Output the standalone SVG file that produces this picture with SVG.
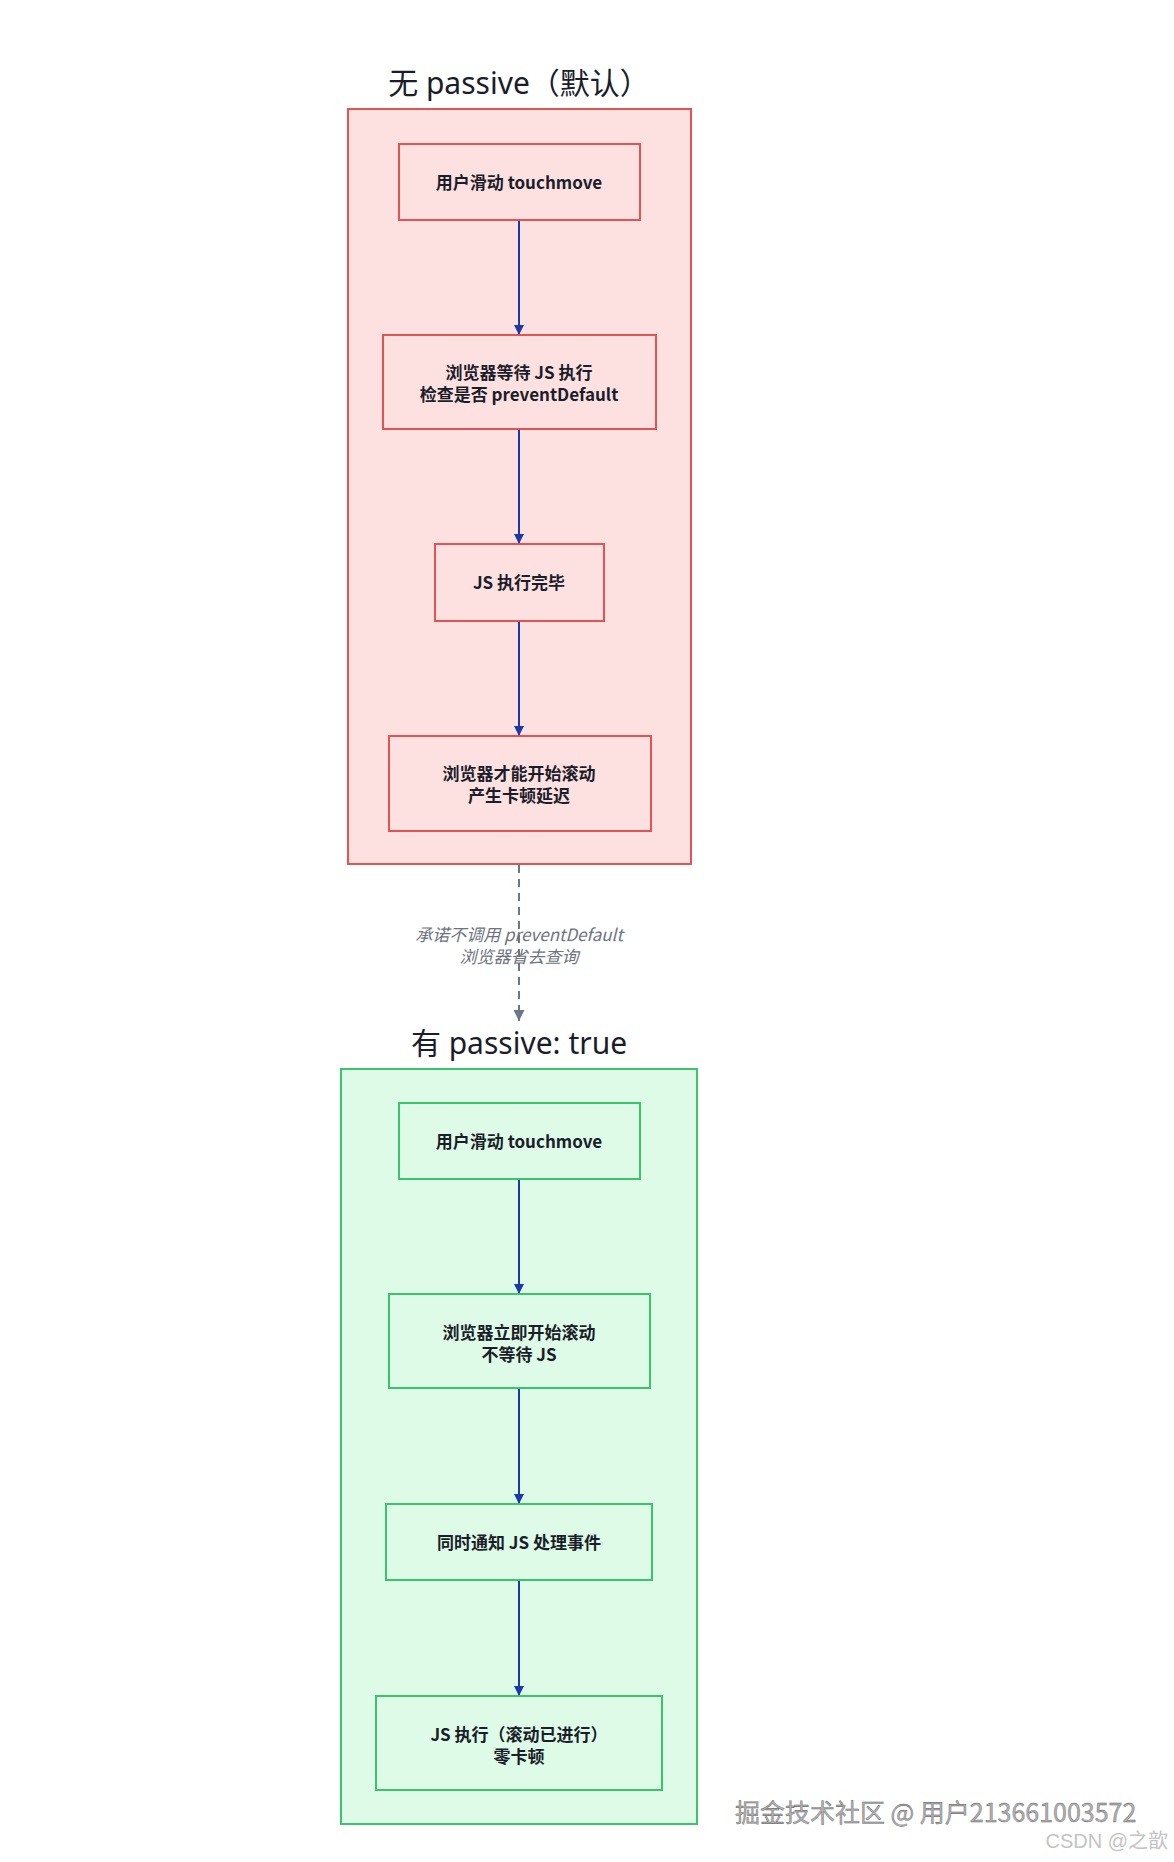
<svg xmlns="http://www.w3.org/2000/svg" width="1174" height="1862" viewBox="0 0 1174 1862">
<defs>
<style>
.title{font-family:"Noto Sans","Noto Sans CJK SC",sans-serif;font-size:30px;fill:#1b1d2a;text-anchor:middle}
.nt{font-family:"Noto Sans CJK SC","Noto Sans",sans-serif;font-size:17px;font-weight:bold;fill:#1b1d2a;text-anchor:middle;dominant-baseline:central}
.lbl{font-family:"Noto Sans CJK SC","Noto Sans",sans-serif;font-size:17px;font-style:italic;fill:#6e7380;text-anchor:middle;dominant-baseline:central}
.red-c{fill:#fde1e1;stroke:#e25454;stroke-width:2}
.red-n{fill:#fde1e1;stroke:#e25454;stroke-width:2}
.grn-c{fill:#ddfbe6;stroke:#3cc46c;stroke-width:2}
.grn-n{fill:#ddfbe6;stroke:#3cc46c;stroke-width:2}
.edge{stroke:#1a3aaa;stroke-width:2;fill:none}
.dash{stroke:#6b7789;stroke-width:2;fill:none;stroke-dasharray:8 6}
.wm{font-family:"Noto Sans CJK SC","Noto Sans",sans-serif;font-size:25px;fill:#b0b0b0;stroke:#5a5a5a;stroke-width:0.35}
.csdn{font-family:"Liberation Sans","Noto Sans CJK SC",sans-serif;font-size:20px;fill:#c4c4c4}
</style>
<marker id="ab" viewBox="0 0 10 10" refX="10" refY="5" markerWidth="10" markerHeight="10" markerUnits="userSpaceOnUse" orient="auto">
<path d="M0,0 L10,5 L0,10 z" fill="#1a3aaa"/>
</marker>
<marker id="ag" viewBox="0 0 10 10" refX="10" refY="5" markerWidth="11" markerHeight="11" markerUnits="userSpaceOnUse" orient="auto">
<path d="M0,0 L10,5 L0,10 z" fill="#6b7789"/>
</marker>
</defs>
<rect width="1174" height="1862" fill="#ffffff"/>

<g id="cluster-nopassive">
<text class="title" x="519" y="94">无 passive（默认）</text>
<rect class="red-c" x="348" y="109" width="343" height="755"/>
</g>
<g id="cluster-passive">
<text class="title" x="519" y="1054">有 passive: true</text>
<rect class="grn-c" x="341" y="1069" width="356" height="755"/>
</g>

<g id="connectors">
<line class="edge" x1="519" y1="220" x2="519" y2="335" marker-end="url(#ab)"/>
<line class="edge" x1="519" y1="429" x2="519" y2="544" marker-end="url(#ab)"/>
<line class="edge" x1="519" y1="621" x2="519" y2="736" marker-end="url(#ab)"/>
<line class="dash" x1="519" y1="865" x2="519" y2="1021" marker-end="url(#ag)"/>
<text class="lbl" x="519" y="933">承诺不调用 preventDefault</text>
<text class="lbl" x="519" y="955">浏览器省去查询</text>
<line class="edge" x1="519" y1="1179" x2="519" y2="1294" marker-end="url(#ab)"/>
<line class="edge" x1="519" y1="1388" x2="519" y2="1504" marker-end="url(#ab)"/>
<line class="edge" x1="519" y1="1580" x2="519" y2="1696" marker-end="url(#ab)"/>
</g>

<g id="a1">
<rect class="red-n" x="399" y="144" width="241" height="76"/>
<text class="nt" x="519" y="181">用户滑动 touchmove</text>
</g>
<g id="a2">
<rect class="red-n" x="383" y="335" width="273" height="94"/>
<text class="nt" x="519" y="371">浏览器等待 JS 执行</text>
<text class="nt" x="519" y="393">检查是否 preventDefault</text>
</g>
<g id="a3">
<rect class="red-n" x="435" y="544" width="169" height="77"/>
<text class="nt" x="519" y="581">JS 执行完毕</text>
</g>
<g id="a4">
<rect class="red-n" x="389" y="736" width="262" height="95"/>
<text class="nt" x="519" y="772">浏览器才能开始滚动</text>
<text class="nt" x="519" y="794">产生卡顿延迟</text>
</g>

<g id="b1">
<rect class="grn-n" x="399" y="1103" width="241" height="76"/>
<text class="nt" x="519" y="1140">用户滑动 touchmove</text>
</g>
<g id="b2">
<rect class="grn-n" x="389" y="1294" width="261" height="94"/>
<text class="nt" x="519" y="1331">浏览器立即开始滚动</text>
<text class="nt" x="519" y="1353">不等待 JS</text>
</g>
<g id="b3">
<rect class="grn-n" x="386" y="1504" width="266" height="76"/>
<text class="nt" x="519" y="1541">同时通知 JS 处理事件</text>
</g>
<g id="b4">
<rect class="grn-n" x="376" y="1696" width="286" height="94"/>
<text class="nt" x="519" y="1733">JS 执行（滚动已进行）</text>
<text class="nt" x="519" y="1755">零卡顿</text>
</g>

<text class="wm" x="735" y="1822">掘金技术社区 @ 用户213661003572</text>
<text class="csdn" x="1168" y="1848" text-anchor="end">CSDN @之歆</text>
</svg>
